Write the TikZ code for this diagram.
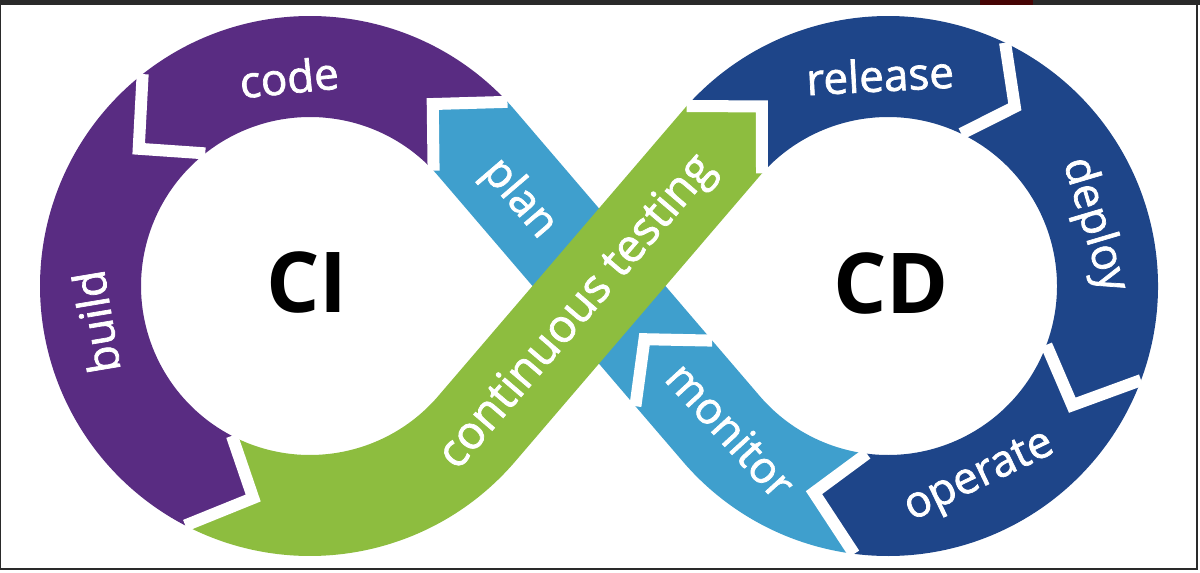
\documentclass[tikz,border=0pt]{standalone}
\usepackage{fontspec}
\setmainfont{Open Sans}
\newfontfamily\labfont{Open Sans}[FakeBold=1.6]
\usetikzlibrary{calc}
\definecolor{cipurple}{RGB}{89,44,130}
\definecolor{cdblue}{RGB}{30,69,137}
\definecolor{lblue}{RGB}{63,159,205}
\definecolor{ctgreen}{RGB}{141,189,63}
\definecolor{framegray}{RGB}{42,42,42}
\definecolor{topred}{RGB}{70,4,4}
\begin{document}
\begin{tikzpicture}[x=0.5pt,y=0.5pt,
  lab/.style={text=white,font=\labfont\fontsize{22}{22}\selectfont,inner sep=0pt},
  big/.style={text=black,font=\fontsize{42}{42}\selectfont\bfseries,inner sep=0pt},
  sepline/.style={draw=white,line width=6pt,line cap=square,line join=miter}]
\useasboundingbox (-599,-287) rectangle (601,286);
% frame of the screenshot
\fill[white] (-599,-287) rectangle (601,286);
\fill[framegray] (-599,281) rectangle (601,286);
\fill[topred] (381,281) rectangle (434,286);
\fill[framegray] (-599,-284) rectangle (-598,286);
\fill[framegray] (597,-284) rectangle (599,286);
\fill[framegray] (-599,-284) rectangle (599,-282);

\def\Ro{270}\def\Ri{169}\def\Rm{219.5}
\coordinate (C1) at (-289,0);
\coordinate (C2) at (289,0);
\coordinate (JPMl) at (36.4,-120.2);
\coordinate (JPMt) at (45.5,-53.2);
\coordinate (JPMr) at (113.2,-54.6);

% plan (light blue, diagonal)
\fill[lblue] (JPMl) -- ($(C1)+(40.55:\Ri)$) arc[start angle=40.55,end angle=43,radius=\Ri]
  -- ($(C1)+(56:\Rm)$) -- ($(C1)+(43:\Ro)$) arc[start angle=43,end angle=40.55,radius=\Ro]
  -- (JPMr) -- (JPMt) -- cycle;
% monitor
\fill[lblue] ($(C2)+(-97.2:\Ro)$) arc[start angle=-97.2,end angle=-139.45,radius=\Ro]
  -- (JPMl) -- (JPMt) -- (JPMr) -- ($(C2)+(-139.45:\Ri)$)
  arc[start angle=-139.45,end angle=-97.2,radius=\Ri] -- ($(C2)+(-109.7:\Rm)$) -- cycle;
% code
\fill[cipurple] ($(C1)+(43:\Ro)$) arc[start angle=43,end angle=128.3,radius=\Ro]
  -- ($(C1)+(141.3:\Rm)$) -- ($(C1)+(128.3:\Ri)$) arc[start angle=128.3,end angle=43,radius=\Ri]
  -- ($(C1)+(56:\Rm)$) -- cycle;
% build
\fill[cipurple] ($(C1)+(128.3:\Ro)$) arc[start angle=128.3,end angle=242.5,radius=\Ro]
  -- ($(C1)+(255:\Rm)$) -- ($(C1)+(242.5:\Ri)$) arc[start angle=242.5,end angle=128.3,radius=\Ri]
  -- ($(C1)+(141.3:\Rm)$) -- cycle;
% release
\fill[cdblue] ($(C2)+(138.2:\Ro)$) arc[start angle=138.2,end angle=64.3,radius=\Ro]
  -- ($(C2)+(54.7:\Rm)$) -- ($(C2)+(64.3:\Ri)$) arc[start angle=64.3,end angle=138.2,radius=\Ri]
  -- ($(C2)+(125.1:\Rm)$) -- cycle;
% deploy
\fill[cdblue] ($(C2)+(64.3:\Ro)$) arc[start angle=64.3,end angle=-20.4,radius=\Ro]
  -- ($(C2)+(-32.9:\Rm)$) -- ($(C2)+(-20.4:\Ri)$) arc[start angle=-20.4,end angle=64.3,radius=\Ri]
  -- ($(C2)+(54.7:\Rm)$) -- cycle;
% operate
\fill[cdblue] ($(C2)+(-20.4:\Ro)$) arc[start angle=-20.4,end angle=-97.2,radius=\Ro]
  -- ($(C2)+(-109.7:\Rm)$) -- ($(C2)+(-97.2:\Ri)$) arc[start angle=-97.2,end angle=-20.4,radius=\Ri]
  -- ($(C2)+(-32.9:\Rm)$) -- cycle;
% continuous testing (green, on top)
\fill[ctgreen] ($(C1)+(242.5:\Ro)$) arc[start angle=242.5,end angle=319.45,radius=\Ro]
  -- ($(C2)+(139.45:\Ri)$) arc[start angle=139.45,end angle=138.2,radius=\Ri]
  -- ($(C2)+(125.1:\Rm)$) -- ($(C2)+(138.2:\Ro)$) arc[start angle=138.2,end angle=139.45,radius=\Ro]
  -- ($(C1)+(-40.55:\Ri)$) arc[start angle=-40.55,end angle=-117.5,radius=\Ri]
  -- ($(C1)+(255:\Rm)$) -- cycle;

% white separators
\draw[sepline] ($(C1)+(43:\Ro)$) -- ($(C1)+(56:\Rm)$) -- ($(C1)+(43:\Ri)$);
\draw[sepline] ($(C1)+(128.3:\Ro)$) -- ($(C1)+(141.3:\Rm)$) -- ($(C1)+(128.3:\Ri)$);
\draw[sepline] ($(C1)+(242.5:\Ro)$) -- ($(C1)+(255:\Rm)$) -- ($(C1)+(242.5:\Ri)$);
\draw[sepline] ($(C2)+(138.2:\Ro)$) -- ($(C2)+(125.1:\Rm)$) -- ($(C2)+(138.2:\Ri)$);
\draw[sepline] ($(C2)+(64.3:\Ro)$) -- ($(C2)+(54.7:\Rm)$) -- ($(C2)+(64.3:\Ri)$);
\draw[sepline] ($(C2)+(-20.4:\Ro)$) -- ($(C2)+(-32.9:\Rm)$) -- ($(C2)+(-20.4:\Ri)$);
\draw[sepline] ($(C2)+(-97.2:\Ro)$) -- ($(C2)+(-109.7:\Rm)$) -- ($(C2)+(-97.2:\Ri)$);
\draw[sepline] (JPMr) -- (JPMt) -- (JPMl);

% labels
\node[lab,rotate=5.7] (code) at (-310,209) {code};
\node[lab,rotate=99.5] (build) at (-503,-36) {build};
\node[lab,rotate=-49.42] (plan) at (-80,87) {plan};
\node[lab,rotate=49.42,font=\labfont\fontsize{23}{23}\selectfont] (ct) at (-21,-27) {continuous testing};
\node[lab,rotate=3] (release) at (281,211) {release};
\node[lab,rotate=-73.5] (deploy) at (495,61) {deploy};
\node[lab,rotate=25.6] (operate) at (381,-192) {operate};
\node[lab,rotate=-47.5] (monitor) at (132,-144) {monitor};
\node[big] (ci) at (-292,4) {CI};
\node[big] (cd) at (292,3) {CD};
\end{tikzpicture}
\end{document}
